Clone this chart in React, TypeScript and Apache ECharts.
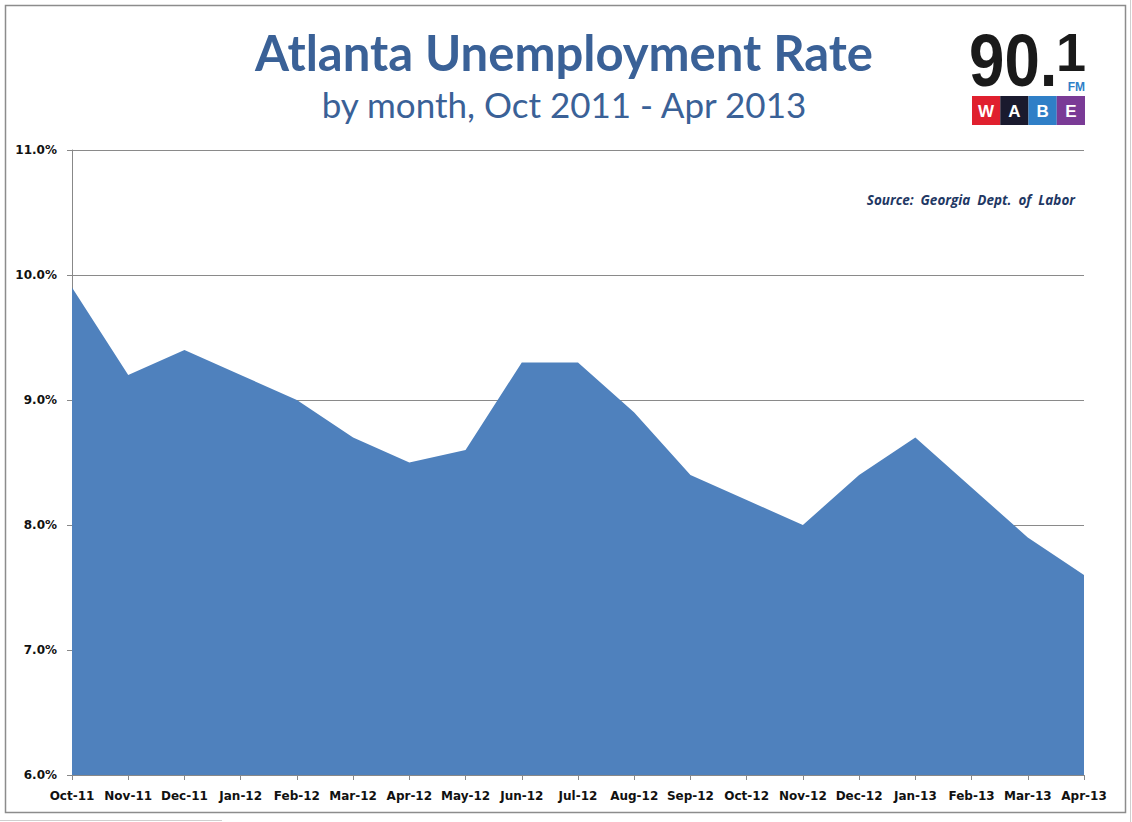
import React, { useEffect, useRef } from "react";
import * as echarts from "echarts";

const months = [
  "Oct-11", "Nov-11", "Dec-11", "Jan-12", "Feb-12", "Mar-12", "Apr-12", "May-12", "Jun-12", "Jul-12",
  "Aug-12", "Sep-12", "Oct-12", "Nov-12", "Dec-12", "Jan-13", "Feb-13", "Mar-13", "Apr-13",
];
const rates = [9.9, 9.2, 9.4, 9.2, 9.0, 8.7, 8.5, 8.6, 9.3, 9.3, 8.9, 8.4, 8.2, 8.0, 8.4, 8.7, 8.3, 7.9, 7.6];
const yMin = 6;
const yMax = 11;
const yStep = 1;

const titleText = "Atlanta Unemployment Rate";
const subtitleText = "by month, Oct 2011 - Apr 2013";
const sourceText = "Source:  Georgia  Dept.  of  Labor";

export default function App() {
  const ref = useRef<HTMLDivElement>(null);
  useEffect(() => {
    document.body.style.margin = "0";
    const chart = echarts.init(ref.current!, null, { renderer: "svg" });
    const blue = "#3A6197";
    const logoBoxes = [
      { l: "W", c: "#E0202E" },
      { l: "A", c: "#1A1A2E" },
      { l: "B", c: "#2F7FC7" },
      { l: "E", c: "#7A3B96" },
    ];
    chart.setOption({
      animation: false,
      backgroundColor: "#ffffff",
      grid: { left: 72, right: 48, top: 150, bottom: 47 },
      xAxis: {
        type: "category",
        data: months,
        boundaryGap: false,
        axisLine: { show: true, lineStyle: { color: "#888", width: 1 } },
        axisTick: { show: true, length: 5, alignWithLabel: true, lineStyle: { color: "#888" } },
        axisLabel: {
          interval: 0,
          color: "#111",
          fontFamily: "DejaVu Sans",
          fontWeight: "bold",
          fontSize: 12,
          margin: 15,
        },
        splitLine: { show: false },
      },
      yAxis: {
        type: "value",
        min: yMin,
        max: yMax,
        interval: yStep,
        axisLine: { show: true, lineStyle: { color: "#888", width: 1 } },
        axisTick: { show: true, length: 5, lineStyle: { color: "#888" } },
        axisLabel: {
          color: "#111",
          fontFamily: "DejaVu Sans",
          fontWeight: "bold",
          fontSize: 12,
          margin: 15,
          formatter: (v: number) => v.toFixed(1) + "%",
        },
        splitLine: { show: true, lineStyle: { color: "#8a8a8a", width: 1 } },
      },
      series: [
        {
          type: "line",
          data: rates,
          symbol: "none",
          lineStyle: { width: 0, color: "#4F81BD" },
          areaStyle: { color: "#4F81BD", opacity: 1, origin: "start" },
          z: 1,
        },
      ],
      graphic: [
        {
          type: "rect",
          shape: { x: 5.5, y: 5.5, width: 1120, height: 807 },
          style: { fill: "none", stroke: "#8c8c8c", lineWidth: 1.5 },
          z: -1,
        },
        {
          type: "line",
          shape: { x1: 1130.5, y1: 0, x2: 1130.5, y2: 822 },
          style: { stroke: "#cfcfcf", lineWidth: 1 },
        },
        {
          type: "line",
          shape: { x1: 0, y1: 820.5, x2: 222, y2: 820.5 },
          style: { stroke: "#cfcfcf", lineWidth: 1 },
        },
        {
          type: "text",
          x: 564,
          y: 52,
          style: {
            text: titleText,
            fill: blue,
            font: "bold 49px Lato",
            textAlign: "center",
            textVerticalAlign: "middle",
          },
        },
        {
          type: "text",
          x: 564,
          y: 104,
          style: {
            text: subtitleText,
            fill: blue,
            font: "35px Lato",
            textAlign: "center",
            textVerticalAlign: "middle",
          },
        },
        {
          type: "text",
          x: 1075,
          y: 200,
          style: {
            text: sourceText,
            fill: "#1F3864",
            font: "italic bold 13.5px 'Open Sans'",
            textAlign: "right",
            textVerticalAlign: "middle",
          },
        },
        {
          type: "text",
          x: 969,
          y: 61,
          scaleX: 0.86,
          style: {
            text: "90.",
            fill: "#1a1a1a",
            font: "bold 74px 'Liberation Sans'",
            textAlign: "left",
            textVerticalAlign: "middle",
          },
        },
        {
          type: "text",
          x: 1056,
          y: 52,
          style: {
            text: "1",
            fill: "#1a1a1a",
            font: "bold 54px 'Liberation Sans'",
            textAlign: "left",
            textVerticalAlign: "middle",
          },
        },
        {
          type: "text",
          x: 1085,
          y: 87,
          style: {
            text: "FM",
            fill: "#2F7FC7",
            font: "bold 12px 'Liberation Sans'",
            textAlign: "right",
            textVerticalAlign: "middle",
          },
        },
        ...logoBoxes.map((b, i) => ({
          type: "group",
          children: [
            {
              type: "rect",
              shape: { x: 972 + i * 28.25, y: 96, width: 28.25, height: 29 },
              style: { fill: b.c },
            },
            {
              type: "text",
              x: 972 + i * 28.25 + 14.1,
              y: 111,
              style: {
                text: b.l,
                fill: "#ffffff",
                font: "bold 17px 'Liberation Sans'",
                textAlign: "center",
                textVerticalAlign: "middle",
              },
            },
          ],
        })),
      ],
    });
    return () => chart.dispose();
  }, []);
  return <div ref={ref} style={{ width: 1132, height: 822 }} />;
}
